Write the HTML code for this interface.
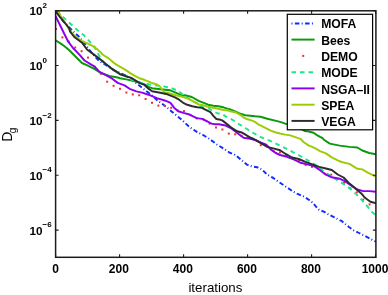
<!DOCTYPE html>
<html><head><meta charset="utf-8"><title>Dg vs iterations</title>
<style>html,body{margin:0;padding:0;background:#fff;}svg{display:block;}</style>
</head><body>
<svg width="388" height="295" viewBox="0 0 388 295">
<rect width="388" height="295" fill="#fff"/>
<defs><clipPath id="c"><rect x="55.6" y="10.8" width="320.29999999999995" height="246.5"/></clipPath></defs>
<g clip-path="url(#c)" fill="none" stroke-linejoin="round" stroke-linecap="butt">
<path d="M56.0,11.0 L63.5,21.6 L67.0,25.0 L72.6,30.8 L79.4,37.0 L86.2,45.5 L93.0,54.5 L99.1,61.0 L106.7,65.5 L110.1,67.8 L116.0,71.5 L124.5,74.8 L133.0,80.5 L142.5,88.0 L146.5,91.2 L151.0,94.6 L158.3,101.2 L162.0,103.7 L167.1,107.6 L172.2,111.9 L177.3,116.1 L182.4,120.3 L185.8,123.6 L190.1,127.5 L196.9,131.9 L203.6,135.3 L210.4,139.6 L217.2,144.7 L224.0,148.9 L229.1,152.3 L234.2,154.5 L236.8,156.2 L241.9,160.4 L247.0,164.7 L252.0,166.4 L257.1,167.2 L262.2,169.7 L267.3,174.8 L272.4,177.4 L278.3,181.6 L285.2,186.2 L292.0,190.8 L297.0,193.6 L302.1,195.8 L305.0,197.2 L309.5,200.2 L312.9,202.9 L316.3,207.0 L319.0,209.7 L323.7,211.7 L328.5,214.4 L333.9,217.1 L338.0,219.3 L341.4,220.8 L345.5,224.2 L348.9,227.0 L353.6,230.3 L359.0,233.0 L364.5,235.8 L368.5,237.8 L373.3,240.5 L376.0,241.6" stroke="#0f2cff" stroke-width="1.95" stroke-dasharray="4.5 2.3 1 2.4"/>
<path d="M55.5,40.2 L60.8,43.6 L64.2,46.0 L69.3,50.3 L75.2,56.3 L82.0,63.0 L87.9,65.6 L94.7,69.1 L100.8,73.0 L109.3,76.0 L117.7,77.5 L120.0,78.2 L126.2,79.4 L134.7,81.2 L140.3,82.8 L145.0,84.7 L149.1,87.2 L152.1,88.2 L160.3,89.2 L170.4,90.3 L175.0,92.3 L182.4,95.6 L185.0,95.3 L191.8,97.0 L198.6,100.8 L203.1,102.6 L208.2,104.7 L213.3,105.7 L218.3,106.2 L223.4,107.3 L228.0,108.9 L230.1,109.3 L235.2,111.3 L240.3,113.8 L245.3,115.3 L250.4,115.8 L255.0,116.3 L260.5,116.7 L267.3,118.7 L274.1,120.4 L280.1,121.9 L285.2,123.6 L295.0,126.5 L302.0,129.5 L304.6,131.0 L308.7,131.5 L313.5,132.7 L317.0,135.1 L320.0,136.9 L322.5,138.0 L323.9,139.7 L329.8,143.6 L339.7,145.6 L349.5,146.9 L357.4,147.5 L362.3,150.5 L369.2,153.0 L376.5,154.4" stroke="#0a990a" stroke-width="1.95"/>
<rect x="55.0" y="28.0" width="2" height="2" fill="#f03030" stroke="none"/>
<rect x="61.4" y="36.4" width="2" height="2" fill="#f03030" stroke="none"/>
<rect x="67.8" y="40.6" width="2" height="2" fill="#f03030" stroke="none"/>
<rect x="74.2" y="46.5" width="2" height="2" fill="#f03030" stroke="none"/>
<rect x="80.6" y="50.2" width="2" height="2" fill="#f03030" stroke="none"/>
<rect x="87.0" y="56.6" width="2" height="2" fill="#f03030" stroke="none"/>
<rect x="93.4" y="65.6" width="2" height="2" fill="#f03030" stroke="none"/>
<rect x="99.8" y="72.8" width="2" height="2" fill="#f03030" stroke="none"/>
<rect x="106.2" y="80.7" width="2" height="2" fill="#f03030" stroke="none"/>
<rect x="112.6" y="84.8" width="2" height="2" fill="#f03030" stroke="none"/>
<rect x="119.0" y="87.8" width="2" height="2" fill="#f03030" stroke="none"/>
<rect x="125.4" y="91.5" width="2" height="2" fill="#f03030" stroke="none"/>
<rect x="131.8" y="93.4" width="2" height="2" fill="#f03030" stroke="none"/>
<rect x="138.2" y="94.3" width="2" height="2" fill="#f03030" stroke="none"/>
<rect x="144.6" y="98.0" width="2" height="2" fill="#f03030" stroke="none"/>
<rect x="151.0" y="101.8" width="2" height="2" fill="#f03030" stroke="none"/>
<rect x="157.4" y="104.6" width="2" height="2" fill="#f03030" stroke="none"/>
<rect x="163.8" y="104.9" width="2" height="2" fill="#f03030" stroke="none"/>
<rect x="170.2" y="106.8" width="2" height="2" fill="#f03030" stroke="none"/>
<rect x="176.6" y="109.3" width="2" height="2" fill="#f03030" stroke="none"/>
<rect x="183.0" y="110.1" width="2" height="2" fill="#f03030" stroke="none"/>
<rect x="189.4" y="114.1" width="2" height="2" fill="#f03030" stroke="none"/>
<rect x="195.8" y="117.4" width="2" height="2" fill="#f03030" stroke="none"/>
<rect x="202.2" y="118.2" width="2" height="2" fill="#f03030" stroke="none"/>
<rect x="208.6" y="122.6" width="2" height="2" fill="#f03030" stroke="none"/>
<rect x="215.0" y="126.5" width="2" height="2" fill="#f03030" stroke="none"/>
<rect x="221.4" y="128.5" width="2" height="2" fill="#f03030" stroke="none"/>
<rect x="227.8" y="132.6" width="2" height="2" fill="#f03030" stroke="none"/>
<rect x="234.2" y="133.3" width="2" height="2" fill="#f03030" stroke="none"/>
<rect x="240.6" y="134.7" width="2" height="2" fill="#f03030" stroke="none"/>
<rect x="247.0" y="137.0" width="2" height="2" fill="#f03030" stroke="none"/>
<rect x="253.4" y="138.8" width="2" height="2" fill="#f03030" stroke="none"/>
<rect x="259.8" y="144.2" width="2" height="2" fill="#f03030" stroke="none"/>
<rect x="266.2" y="144.8" width="2" height="2" fill="#f03030" stroke="none"/>
<rect x="272.6" y="150.1" width="2" height="2" fill="#f03030" stroke="none"/>
<rect x="279.0" y="151.3" width="2" height="2" fill="#f03030" stroke="none"/>
<rect x="285.4" y="154.2" width="2" height="2" fill="#f03030" stroke="none"/>
<rect x="291.8" y="157.0" width="2" height="2" fill="#f03030" stroke="none"/>
<rect x="298.2" y="159.0" width="2" height="2" fill="#f03030" stroke="none"/>
<rect x="304.6" y="163.9" width="2" height="2" fill="#f03030" stroke="none"/>
<rect x="311.0" y="165.9" width="2" height="2" fill="#f03030" stroke="none"/>
<rect x="317.4" y="167.6" width="2" height="2" fill="#f03030" stroke="none"/>
<rect x="323.8" y="172.6" width="2" height="2" fill="#f03030" stroke="none"/>
<rect x="330.2" y="173.7" width="2" height="2" fill="#f03030" stroke="none"/>
<rect x="336.6" y="178.0" width="2" height="2" fill="#f03030" stroke="none"/>
<rect x="343.0" y="182.0" width="2" height="2" fill="#f03030" stroke="none"/>
<rect x="349.4" y="187.2" width="2" height="2" fill="#f03030" stroke="none"/>
<rect x="355.8" y="191.4" width="2" height="2" fill="#f03030" stroke="none"/>
<rect x="362.2" y="198.7" width="2" height="2" fill="#f03030" stroke="none"/>
<rect x="368.6" y="203.4" width="2" height="2" fill="#f03030" stroke="none"/>
<path d="M57.0,10.5 L59.4,13.4 L63.5,17.5 L78.4,31.0 L83.7,35.1 L90.6,42.6 L94.7,47.0 L97.4,52.9 L103.3,62.0 L112.0,69.0 L120.0,73.0 L127.0,77.0 L133.0,80.3 L139.0,82.5 L145.1,83.7 L155.3,85.4 L162.9,86.3 L171.4,88.0 L179.0,91.4 L185.8,96.8 L192.0,100.7 L197.4,103.3 L199.0,106.2 L209.0,108.5 L213.0,111.2 L217.3,113.2 L222.4,114.3 L226.0,116.6 L232.5,119.8 L238.5,123.8 L245.3,128.0 L252.0,132.3 L258.8,136.0 L263.9,138.4 L272.4,141.8 L277.5,144.3 L281.8,146.4 L288.6,149.8 L295.3,153.5 L302.1,157.0 L310.6,161.9 L317.4,166.1 L323.9,171.5 L331.8,176.7 L339.7,181.6 L347.5,186.5 L355.4,193.4 L361.3,199.3 L367.2,206.2 L372.1,212.1 L376.5,216.0" stroke="#1ee68c" stroke-width="1.95" stroke-dasharray="4.6 3.9"/>
<path d="M55.6,16.2 L68.2,41.7 L73.0,48.0 L79.4,54.6 L84.5,60.5 L91.3,64.7 L94.5,66.5 L99.1,71.5 L105.9,75.1 L110.9,77.8 L117.7,82.9 L124.5,85.4 L129.6,88.8 L136.4,91.4 L142.0,92.6 L148.5,94.7 L156.9,98.1 L165.4,100.7 L170.5,102.8 L174.1,107.7 L178.2,111.3 L183.4,112.9 L188.6,114.2 L192.6,116.1 L196.7,118.1 L202.1,118.9 L207.5,121.5 L211.6,123.6 L215.0,124.2 L218.9,124.3 L225.7,125.5 L230.8,128.0 L235.1,131.3 L240.2,135.3 L243.6,137.8 L250.3,138.9 L255.4,140.0 L260.5,142.5 L265.6,144.3 L270.7,149.4 L275.8,153.0 L280.1,155.0 L286.9,156.8 L293.6,159.3 L300.4,162.7 L307.2,164.4 L314.0,166.1 L319.1,169.5 L325.9,174.7 L331.8,177.3 L339.7,178.7 L345.6,181.6 L351.5,185.6 L357.4,189.5 L363.3,191.1 L369.2,191.1 L376.5,191.9" stroke="#8c00ee" stroke-width="1.95"/>
<path d="M58.0,10.6 L61.8,18.2 L66.6,25.0 L68.5,28.6 L72.0,33.1 L77.1,38.2 L82.2,41.2 L87.3,43.3 L92.3,45.8 L97.4,49.4 L100.8,52.5 L103.2,55.0 L108.3,58.1 L112.3,61.6 L116.4,64.7 L122.0,67.9 L125.1,69.6 L130.2,73.1 L135.3,76.2 L139.3,78.2 L144.4,79.8 L151.1,82.6 L157.5,84.7 L159.5,86.0 L164.3,92.3 L169.4,93.3 L175.0,95.0 L182.2,96.8 L187.3,98.4 L192.3,100.9 L198.0,104.2 L203.1,105.2 L208.2,106.7 L213.3,107.8 L218.3,108.8 L223.4,110.0 L228.0,110.5 L230.1,111.2 L235.2,112.2 L240.3,114.8 L243.3,117.3 L247.4,119.3 L251.4,120.4 L255.0,121.9 L258.8,124.7 L263.9,127.2 L270.7,130.6 L276.0,132.5 L280.1,133.5 L285.2,134.6 L290.3,135.4 L295.3,137.1 L300.4,138.8 L303.8,142.2 L308.9,145.6 L311.1,146.4 L315.8,148.7 L320.0,151.1 L325.9,153.4 L331.8,157.4 L337.7,160.3 L341.6,162.0 L349.5,163.9 L357.4,168.8 L362.3,169.4 L368.2,172.8 L376.0,176.6" stroke="#9ccc05" stroke-width="1.95"/>
<path d="M55.6,11.8 L57.1,13.4 L59.8,16.8 L63.2,20.9 L66.6,25.0 L69.3,28.3 L70.1,31.7 L74.3,37.0 L82.0,42.7 L87.0,49.5 L94.0,54.6 L100.8,59.7 L105.9,63.9 L111.0,68.1 L117.7,72.6 L120.0,74.3 L126.1,76.2 L131.2,77.9 L135.3,80.3 L139.3,82.8 L144.4,84.8 L145.5,86.0 L148.1,88.4 L152.1,91.3 L160.3,92.8 L167.4,94.3 L175.0,97.3 L179.1,99.7 L183.2,102.8 L187.3,104.8 L192.3,106.3 L197.4,107.3 L202.0,107.9 L205.3,109.7 L210.4,112.2 L213.8,116.4 L216.4,119.0 L220.6,119.8 L222.2,120.4 L227.6,124.5 L231.7,127.9 L237.1,131.3 L242.5,132.8 L246.6,135.3 L250.0,137.3 L253.7,139.0 L260.5,142.8 L267.3,146.9 L274.1,148.6 L280.1,150.3 L285.2,153.7 L292.0,157.5 L298.7,159.0 L305.5,161.9 L312.3,164.4 L319.1,166.9 L325.9,168.5 L331.8,170.0 L337.7,174.5 L343.6,177.5 L349.5,183.6 L355.4,188.5 L361.3,193.4 L365.0,197.8 L370.4,201.7 L376.5,203.5" stroke="#2c2c2c" stroke-width="1.95"/>
</g>
<rect x="55.6" y="10.8" width="320.29999999999995" height="246.5" fill="none" stroke="#1c1c1c" stroke-width="1.5"/>
<path d="M55.6,257.3 v-3 M55.6,10.8 v3 M119.6,257.3 v-3 M119.6,10.8 v3 M183.6,257.3 v-3 M183.6,10.8 v3 M247.6,257.3 v-3 M247.6,10.8 v3 M311.6,257.3 v-3 M311.6,10.8 v3 M375.6,257.3 v-3 M375.6,10.8 v3 M55.6,10.60 h3 M375.9,10.60 h-3 M55.6,65.49 h3 M375.9,65.49 h-3 M55.6,120.38 h3 M375.9,120.38 h-3 M55.6,175.26 h3 M375.9,175.26 h-3 M55.6,230.15 h3 M375.9,230.15 h-3" stroke="#1c1c1c" stroke-width="1.1"/>
<g font-family="Liberation Sans, Arial, sans-serif" font-weight="bold" font-size="12" fill="#000" text-anchor="middle">
<text x="55.6" y="272.6">0</text>
<text x="118.8" y="272.6">200</text>
<text x="182.8" y="272.6">400</text>
<text x="246.9" y="272.6">600</text>
<text x="310.9" y="272.6">800</text>
<text x="375.0" y="272.6">1000</text>
</g>
<g font-family="Liberation Sans, Arial, sans-serif" font-weight="bold" fill="#000">
<text x="42.4" y="15.0" font-size="11.7" text-anchor="end">10</text>
<text x="42.5" y="7.7" font-size="8">2</text>
<text x="42.4" y="69.9" font-size="11.7" text-anchor="end">10</text>
<text x="42.5" y="62.6" font-size="8">0</text>
<text x="42.4" y="124.8" font-size="11.7" text-anchor="end">10</text>
<text x="42.5" y="117.5" font-size="8">−2</text>
<text x="42.4" y="179.7" font-size="11.7" text-anchor="end">10</text>
<text x="42.5" y="172.4" font-size="8">−4</text>
<text x="42.4" y="234.6" font-size="11.7" text-anchor="end">10</text>
<text x="42.5" y="227.3" font-size="8">−6</text>
</g>
<text x="215.4" y="291.6" font-family="Liberation Sans, Arial, sans-serif" font-size="13.3" text-anchor="middle" fill="#000">iterations</text>
<text transform="translate(12.2,141.7) rotate(-90)" font-family="Liberation Sans, Arial, sans-serif" font-size="14" fill="#000">D</text>
<text transform="translate(16.4,133.2) rotate(-90)" font-family="Liberation Sans, Arial, sans-serif" font-size="10" fill="#000">g</text>
<rect x="287.3" y="14.3" width="85.30000000000001" height="115.50000000000001" fill="#fff" stroke="#000" stroke-width="1.2"/>
<path d="M291.5,23.4 H314.6" stroke="#0f2cff" stroke-width="1.95" fill="none" stroke-dasharray="4.5 2.3 1 2.4" stroke-dashoffset="6.8"/>
<text x="321.2" y="28.2" font-family="Liberation Sans, Arial, sans-serif" font-weight="bold" font-size="12.2" fill="#000">MOFA</text>
<path d="M291.5,39.6 H314.6" stroke="#0a990a" stroke-width="1.95" fill="none"/>
<text x="321.2" y="44.6" font-family="Liberation Sans, Arial, sans-serif" font-weight="bold" font-size="12.2" fill="#000">Bees</text>
<rect x="302.2" y="54.9" width="2" height="2" fill="#f03030"/>
<text x="321.2" y="60.9" font-family="Liberation Sans, Arial, sans-serif" font-weight="bold" font-size="12.2" fill="#000">DEMO</text>
<path d="M291.5,72.2 H314.6" stroke="#1ee68c" stroke-width="1.95" fill="none" stroke-dasharray="4.6 3.9"/>
<text x="321.2" y="77.3" font-family="Liberation Sans, Arial, sans-serif" font-weight="bold" font-size="12.2" fill="#000">MODE</text>
<path d="M291.5,88.4 H314.6" stroke="#8c00ee" stroke-width="1.95" fill="none"/>
<text x="321.2" y="93.6" font-family="Liberation Sans, Arial, sans-serif" font-weight="bold" font-size="12.2" fill="#000">NSGA–II</text>
<path d="M291.5,104.7 H314.6" stroke="#9ccc05" stroke-width="1.95" fill="none"/>
<text x="321.2" y="110.0" font-family="Liberation Sans, Arial, sans-serif" font-weight="bold" font-size="12.2" fill="#000">SPEA</text>
<path d="M291.5,120.9 H314.6" stroke="#2c2c2c" stroke-width="1.95" fill="none"/>
<text x="321.2" y="126.4" font-family="Liberation Sans, Arial, sans-serif" font-weight="bold" font-size="12.2" fill="#000">VEGA</text>
</svg>
</body></html>
